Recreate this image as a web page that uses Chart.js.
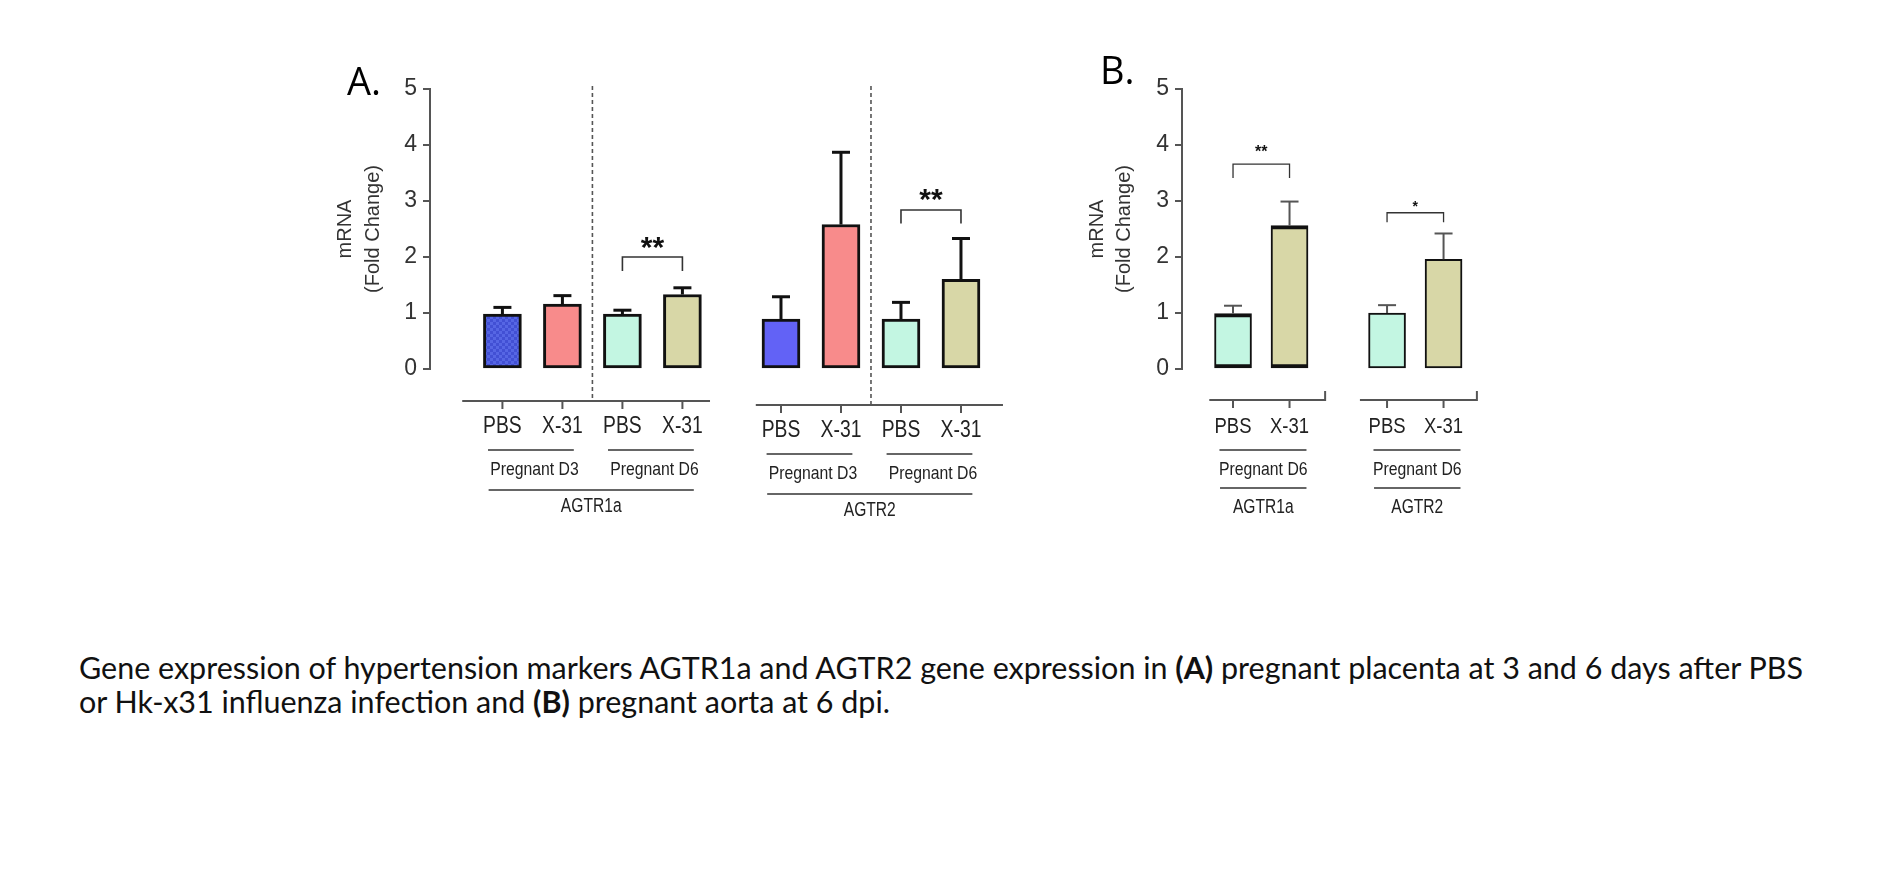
<!DOCTYPE html>
<html>
<head>
<meta charset="utf-8">
<script src="https://cdn.jsdelivr.net/npm/chart.js@4.4.1/dist/chart.umd.min.js"></script>
<style>
  html, body { margin: 0; padding: 0; background: #fff; }
  #page { position: relative; width: 1877px; height: 891px; overflow: hidden; background: #fff; }
  canvas { position: absolute; }
  .tag { position: absolute; font-family: 'Open Sans', sans-serif; font-size: 38px; line-height: 38px; color: #000; }
  #caption { position: absolute; left: 79px; top: 650px; font-family: Lato, sans-serif; font-size: 26px; line-height: 34px; color: #111; white-space: nowrap; }
</style>
</head>
<body>
<div id="page">
  <canvas id="chartA" width="730" height="500" style="left:280px;top:40px"></canvas>
  <canvas id="chartB" width="466" height="500" style="left:1034px;top:40px"></canvas>
  <div class="tag" style="left:347px;top:61px">A.</div>
  <div class="tag" style="left:1100px;top:50px">B.</div>
  <div id="caption">
    <div><span id="capLine1">Gene expression of hypertension markers AGTR1a and AGTR2 gene expression in <b>(A)</b> pregnant placenta at 3 and 6 days after PBS</span></div>
    <div><span>or Hk-x31 influenza infection and <b>(B)</b> pregnant aorta at 6 dpi.</span></div>
  </div>
</div>
<script>
  'use strict';

  // ---- data ----
  const yTicks = [0, 1, 2, 3, 4, 5];
  const yTitle = ['mRNA', '(Fold Change)'];
  const treatments = ['PBS', 'X-31'];

  // A. placenta, 3 and 6 days
  const placentaDays = ['Pregnant D3', 'Pregnant D6'];
  const placentaAgtr1aMean = [0.98, 1.16, 0.98, 1.33];
  const placentaAgtr1aSem = [0.12, 0.15, 0.07, 0.12];
  const placentaAgtr2Mean = [0.89, 2.58, 0.89, 1.60];
  const placentaAgtr2Sem = [0.40, 1.29, 0.30, 0.73];
  const placentaSig = ['**', '**'];
  const placentaSigLevel = [2.0, 2.84];

  // B. aorta, 6 days
  const aortaDays = ['Pregnant D6'];
  const aortaAgtr1aMean = [0.99, 2.56];
  const aortaAgtr1aSem = [0.14, 0.43];
  const aortaAgtr2Mean = [1.00, 1.96];
  const aortaAgtr2Sem = [0.14, 0.46];
  const aortaSig = ['**', '*'];
  const aortaSigLevel = [3.66, 2.79];

  // ---- colours ----
  const salmon = '#F88B8B';
  const mint = '#C3F6E2';
  const khaki = '#D8D7A7';
  const violet = '#6262F6';

  function hatchBlue() {
    const c = document.createElement('canvas');
    c.width = 6; c.height = 6;
    const g = c.getContext('2d');
    g.fillStyle = '#4250D4';
    g.fillRect(0, 0, 6, 6);
    g.fillStyle = '#5666E4';
    g.fillRect(0, 0, 3, 3);
    g.fillRect(3, 3, 3, 3);
    return g.createPattern(c, 'repeat');
  }

  const FONT = "'Liberation Sans', Arial, sans-serif";
  const SQUEEZE = 0.84; // x-axis texts are narrow in the figure

  function squeezedText(ctx, text, x, y, size, sx) {
    ctx.save();
    ctx.font = size + 'px ' + FONT;
    ctx.textAlign = 'center';
    ctx.textBaseline = 'middle';
    ctx.translate(x, y);
    ctx.scale(sx, 1);
    ctx.fillText(text, 0, 0);
    ctx.restore();
  }

  function line(ctx, x1, y1, x2, y2) {
    ctx.beginPath();
    ctx.moveTo(x1, y1);
    ctx.lineTo(x2, y2);
    ctx.stroke();
  }

  // draws error bars, split x axes, group labels and significance brackets
  function prismPlugin(cfg) {
    return {
      id: 'prism',
      afterDatasetsDraw(chart) {
        const ctx = chart.ctx;
        const ys = chart.scales.y;
        const ds = chart.data.datasets[0];
        const meta = chart.getDatasetMeta(0);
        ctx.save();
        ctx.strokeStyle = cfg.errColor;
        ctx.lineWidth = cfg.errWidth;
        meta.data.forEach((bar, i) => {
          const top = ys.getPixelForValue(ds.data[i].y + ds.sem[i]);
          line(ctx, bar.x, bar.y, bar.x, top);
          line(ctx, bar.x - cfg.cap / 2, top, bar.x + cfg.cap / 2, top);
        });
        ctx.restore();
      },
      afterDraw(chart) {
        const ctx = chart.ctx;
        const xs = chart.scales.x;
        const ys = chart.scales.y;
        const area = chart.chartArea;
        const px = v => xs.getPixelForValue(v);
        const L = cfg.rows;

        ctx.save();
        cfg.groups.forEach((g, gi) => {
          const x0 = cfg.groupStart[gi];
          const n = g.mean.length;
          const axisY = area.bottom + g.axisDy;

          ctx.strokeStyle = '#555';
          ctx.lineWidth = 2;
          ctx.setLineDash([]);
          line(ctx, px(x0 + g.seg[0]), axisY, px(x0 + g.seg[1]), axisY);
          if (cfg.endTick) line(ctx, px(x0 + g.seg[1]), axisY + 1, px(x0 + g.seg[1]), axisY - 9);

          ctx.fillStyle = '#222';
          for (let i = 0; i < n; i++) {
            line(ctx, px(x0 + i), axisY, px(x0 + i), axisY + 8);
            squeezedText(ctx, treatments[i % 2], px(x0 + i), axisY + L.treat, cfg.treatSize, SQUEEZE);
          }

          ctx.strokeStyle = '#666';
          g.days.forEach((d, di) => {
            const a = x0 + 2 * di, b = a + 1;
            line(ctx, px(a - 0.24), axisY + L.pair, px(b + cfg.pairRight), axisY + L.pair);
            squeezedText(ctx, d, (px(a) + px(b)) / 2 + 2, axisY + L.day, 19, 0.83);
          });

          line(ctx, px(x0 - 0.23), axisY + L.gene, px(x0 + n - 1 + cfg.pairRight), axisY + L.gene);
          squeezedText(ctx, g.gene, (px(x0 - 0.23) + px(x0 + n - 1 + cfg.pairRight)) / 2, axisY + L.geneText, 20, 0.78);

          if (g.days.length > 1) {
            const xm = px(x0 + 1.5);
            ctx.strokeStyle = '#555';
            ctx.lineWidth = 1.6;
            ctx.setLineDash([4, 3]);
            line(ctx, xm, area.top - 3, xm, axisY);
            ctx.setLineDash([]);
          }

          // bracket PBS vs X-31 on the last day
          const a = px(x0 + n - 2), b = px(x0 + n - 1);
          const yb = ys.getPixelForValue(g.sigLevel);
          const yl = ys.getPixelForValue(g.sigLevel - g.sigLeg);
          ctx.strokeStyle = '#333';
          ctx.lineWidth = cfg.bracketWidth;
          ctx.beginPath();
          ctx.moveTo(a, yl); ctx.lineTo(a, yb); ctx.lineTo(b, yb); ctx.lineTo(b, yl);
          ctx.stroke();
          ctx.fillStyle = '#111';
          ctx.font = 'bold ' + g.sigSize + 'px ' + FONT;
          ctx.textAlign = 'center';
          ctx.textBaseline = 'alphabetic';
          ctx.fillText(g.sig, (a + b) / 2, yb - g.sigGap + 0.57 * g.sigSize);
        });
        ctx.restore();
      }
    };
  }

  function makePanel(cfg) {
    const points = [], fills = [], borders = [], sem = [];
    cfg.groups.forEach((g, gi) => {
      g.mean.forEach((m, i) => {
        points.push({ x: cfg.groupStart[gi] + i, y: m });
        fills.push(g.fill[i]);
        borders.push(g.border);
        sem.push(g.sem[i]);
      });
    });

    return new Chart(document.getElementById(cfg.id), {
      type: 'bar',
      data: {
        datasets: [{
          data: points,
          sem: sem,
          backgroundColor: fills,
          borderColor: '#111',
          borderWidth: borders,
          borderSkipped: false,
          barThickness: cfg.barWidth
        }]
      },
      options: {
        responsive: false,
        animation: false,
        events: [],
        layout: { padding: cfg.pad },
        plugins: { legend: { display: false }, tooltip: { enabled: false } },
        scales: {
          x: { type: 'linear', min: cfg.xMin, max: cfg.xMax, offset: false, display: false },
          y: {
            min: 0,
            max: 5,
            afterBuildTicks: s => { s.ticks = yTicks.map(v => ({ value: v })); },
            afterFit: s => { s.width = cfg.yWidth; },
            ticks: { font: { family: FONT, size: 23 }, color: '#333', padding: 6 },
            grid: { drawOnChartArea: false, drawTicks: true, tickLength: 7, color: '#555', lineWidth: 2 },
            border: { display: true, color: '#555', width: 2 },
            title: {
              display: true,
              text: yTitle,
              font: { family: FONT, size: 20, lineHeight: cfg.titleLine / 20 },
              color: '#333',
              padding: 0
            }
          }
        }
      },
      plugins: [prismPlugin(cfg)]
    });
  }

  const hatch = hatchBlue();

  makePanel({
    id: 'chartA',
    pad: { left: 51, top: 49, right: 0, bottom: 171 },
    yWidth: 99,
    titleLine: 28,
    xMin: -0.207,
    xMax: 9.46,
    groupStart: [1, 5.643],
    barWidth: 38,
    errColor: '#111', errWidth: 3, cap: 18,
    bracketWidth: 1.6,
    treatSize: 23,
    pairRight: 0.19,
    endTick: false,
    rows: { treat: 26, pair: 49, day: 69, gene: 89, geneText: 105 },
    groups: [
      { gene: 'AGTR1a', days: placentaDays, mean: placentaAgtr1aMean, sem: placentaAgtr1aSem,
        fill: [hatch, salmon, mint, khaki], border: 3, axisDy: 32, seg: [-0.67, 3.46],
        sig: placentaSig[0], sigLevel: placentaSigLevel[0], sigLeg: 0.25, sigSize: 30, sigGap: 17 },
      { gene: 'AGTR2', days: placentaDays, mean: placentaAgtr2Mean, sem: placentaAgtr2Sem,
        fill: [violet, salmon, mint, khaki], border: 3, axisDy: 36, seg: [-0.42, 3.7],
        sig: placentaSig[1], sigLevel: placentaSigLevel[1], sigLeg: 0.24, sigSize: 30, sigGap: 18 }
    ]
  });

  makePanel({
    id: 'chartB',
    pad: { left: 50, top: 49, right: 0, bottom: 171 },
    yWidth: 98,
    titleLine: 27,
    xMin: 0.097,
    xMax: 5.725,
    groupStart: [1, 3.726],
    barWidth: 37,
    errColor: '#555', errWidth: 2, cap: 18,
    bracketWidth: 1.3,
    treatSize: 22,
    pairRight: 0.3,
    endTick: true,
    rows: { treat: 27, pair: 50, day: 70, gene: 88, geneText: 107 },
    groups: [
      { gene: 'AGTR1a', days: aortaDays, mean: aortaAgtr1aMean, sem: aortaAgtr1aSem,
        fill: [mint, khaki], border: { top: 4, bottom: 4, left: 2, right: 2 }, axisDy: 31, seg: [-0.42, 1.63],
        sig: aortaSig[0], sigLevel: aortaSigLevel[0], sigLeg: 0.25, sigSize: 16, sigGap: 16 },
      { gene: 'AGTR2', days: aortaDays, mean: aortaAgtr2Mean, sem: aortaAgtr2Sem,
        fill: [mint, khaki], border: 2, axisDy: 31, seg: [-0.48, 1.59],
        sig: aortaSig[1], sigLevel: aortaSigLevel[1], sigLeg: 0.17, sigSize: 14, sigGap: 10 }
    ]
  });

  // fit the caption's first line to its width in the figure
  function fitCaption() {
    const cap = document.getElementById('caption');
    const w = document.getElementById('capLine1').getBoundingClientRect().width;
    const size = parseFloat(getComputedStyle(cap).fontSize);
    cap.style.fontSize = (size * 1724 / w).toFixed(2) + 'px';
  }
  fitCaption();
  if (document.fonts && document.fonts.ready) document.fonts.ready.then(fitCaption);
</script>
</body>
</html>
